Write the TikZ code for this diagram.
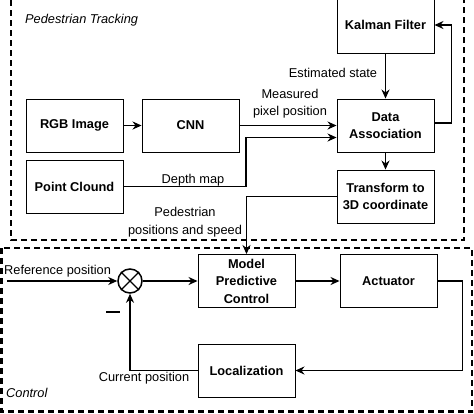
\documentclass[tikz,border=0pt]{standalone}
\usepackage{fontspec}
\setmainfont{Liberation Sans}
\usetikzlibrary{arrows.meta,shapes.geometric}
\begin{document}
\begin{tikzpicture}[x=1pt,y=-1pt,
  every node/.style={font=\fontsize{12.8}{17.5}\selectfont},
  blk/.style={draw, line width=0.9pt, minimum width=97pt, minimum height=53pt, inner sep=2pt, align=center, font=\fontsize{12.8}{17.5}\selectfont\bfseries},
  arr/.style={line width=1.5pt, -{Stealth[length=9pt,width=8pt]}},
  conn/.style={line width=1.5pt},
  grp/.style={line width=2.2pt, dash pattern=on 6pt off 4pt},
  lbl/.style={align=center, inner sep=0pt},
  grplbl/.style={anchor=west, inner sep=0pt, font=\fontsize{12.8}{15}\selectfont\itshape}]
\useasboundingbox (0,0) rectangle (474,413);
\clip (0,0) rectangle (474,413);
% group frames
\draw[grp] (11,-10) rectangle (464,240);
\draw[grp] (1.5,248) rectangle (472,411.5);
\node[grplbl] (tpt) at (25,20) {Pedestrian Tracking};
\node[grplbl] (tctl) at (6,393) {Control};
% blocks
\node[blk, minimum height=56pt] (kf) at (385.5,25) {Kalman Filter};
\node[blk] (da) at (385.5,125.5) {Data\\Association};
\node[blk] (tr) at (385.5,196.5) {Transform to\\3D coordinate};
\node[blk] (rgb) at (74.5,125.5) {RGB Image};
\node[blk] (cnn) at (190.5,125.5) {CNN};
\node[blk] (pc) at (74.5,186.5) {Point Clound};
\node[blk] (mpc) at (246.5,281) {Model\\Predictive\\Control};
\node[blk] (act) at (388.5,281) {Actuator};
\node[blk] (loc) at (246.5,370.5) {Localization};
\node[draw, circle, line width=1.5pt, minimum size=24pt, inner sep=0pt] (sum) at (130,281) {};
\draw[line width=1.2pt] (sum.north east) -- (sum.south west);
\draw[line width=1.2pt] (sum.north west) -- (sum.south east);
\coordinate (refin) at (7,281);
\coordinate (mstart) at (106,312);
\coordinate (mend) at (120,312);
\draw[line width=2.6pt] (mstart) -- (mend);
% connectors
\draw[arr] (rgb) -- (cnn);
\draw[arr] (cnn) -- (da);
\draw[arr] (pc.east) -- (246,186.5) |- ([yshift=-12pt]da.west);
\draw[arr] ([yshift=2.5pt]da.east) -- ++(17,0) |- (kf.east);
\draw[arr] (kf) -- (da);
\draw[arr] (da) -- (tr);
\draw[arr] (tr.west) -| (mpc.north);
\draw[arr] (refin) -- (sum.west);
\draw[arr] (sum) -- (mpc);
\draw[arr] (mpc) -- (act);
\draw[arr] (act.east) -- ++(25,0) |- (loc.east);
\draw[arr] (loc.west) -| (sum.south);
% labels
\node[lbl] (lmeas) at (290,103.5) {Measured\\pixel position};
\node[lbl] (lest) at (333,73) {Estimated state};
\node[lbl] (ldepth) at (193,180) {Depth map};
\node[lbl] (lped) at (185,222) {Pedestrian\\positions and speed};
\node[lbl, anchor=west] (lref) at (4,271) {Reference position};
\node[lbl] (lcur) at (144,378) {Current position};
\end{tikzpicture}
\end{document}
